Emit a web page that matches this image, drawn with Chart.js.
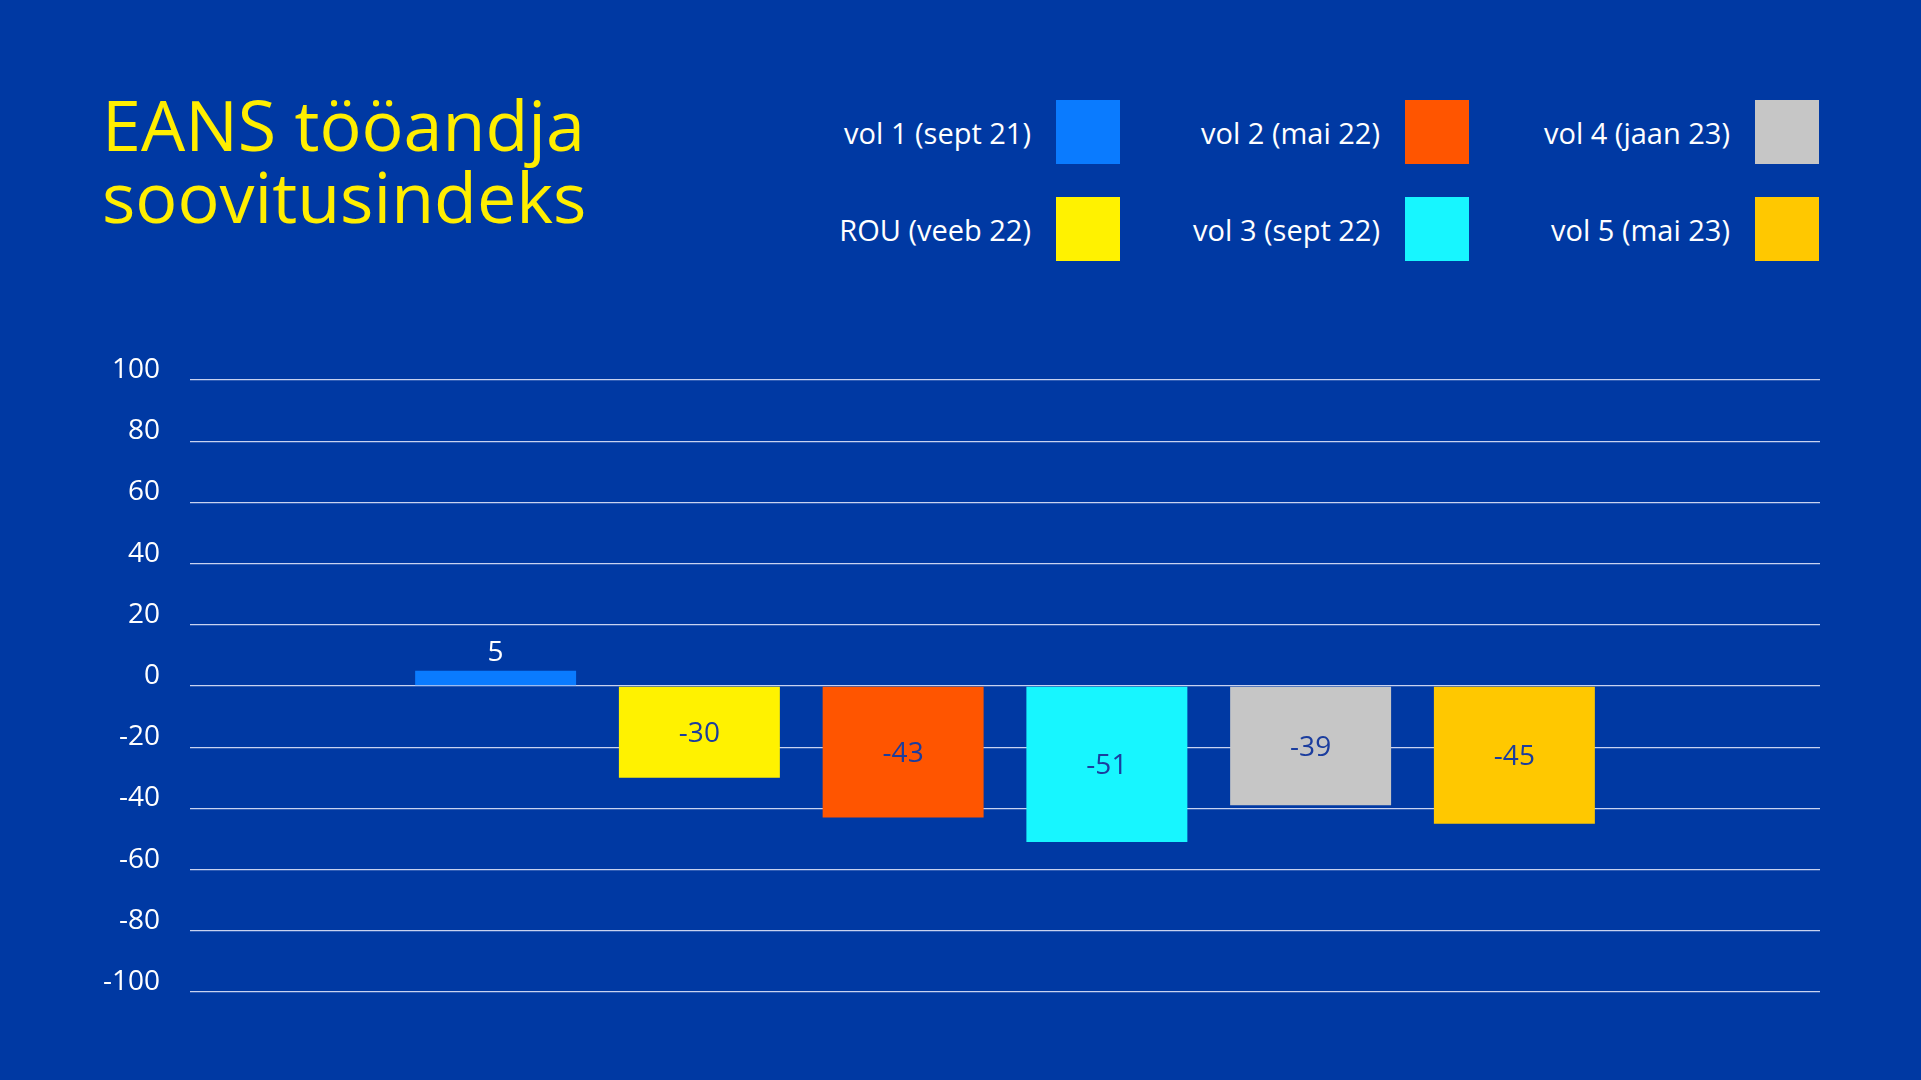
<!DOCTYPE html>
<html><head><meta charset="utf-8">
<script src="https://cdn.jsdelivr.net/npm/chart.js@4"></script>
<style>
html,body{margin:0;padding:0;background:#0039a3;width:1921px;height:1080px;overflow:hidden;font-family:"Open Sans",sans-serif}
#title{position:absolute;left:102px;top:88px;color:#ffee00;font-size:70px;line-height:72px;font-family:"Open Sans";font-weight:400}
.lg{position:absolute;color:#fff;font-size:29px;text-align:right;width:320px}
.sw{position:absolute;width:64px;height:64px}
#c{position:absolute;left:0;top:0}
</style></head><body>
<div id="title">EANS tööandja<br>soovitusindeks</div>
<div id="legend"></div>
<canvas id="c" width="1921" height="1080"></canvas>
<script>
const categories=["","vol 1 (sept 21)","ROU (veeb 22)","vol 2 (mai 22)","vol 3 (sept 22)","vol 4 (jaan 23)","vol 5 (mai 23)",""];
const values=[null,5,-30,-43,-51,-39,-45,null];
const colors=["#000","#0a7bff","#fff200","#ff5500","#17f6ff","#c6c6c6","#ffc800","#000"];
const yTicks=[100,80,60,40,20,0,-20,-40,-60,-80,-100];
const legendOrder=[[1,3,5],[2,4,6]];
const lg=document.getElementById('legend');
const colX=[1056,1405,1755], rowY=[100,197];
legendOrder.forEach((row,r)=>row.forEach((i,c)=>{
  const t=document.createElement('div');t.className='lg';t.textContent=categories[i];
  t.style.left=(colX[c]-345)+'px';t.style.top=(rowY[r]+13)+'px';lg.appendChild(t);
  const s=document.createElement('div');s.className='sw';s.style.background=colors[i];
  s.style.left=colX[c]+'px';s.style.top=rowY[r]+'px';lg.appendChild(s);
}));
const labelPlugin={id:'lbl',afterDatasetsDraw(ch){
  const ctx=ch.ctx;const meta=ch.getDatasetMeta(0);
  ctx.save();ctx.font='28px "Open Sans"';ctx.textAlign='center';
  meta.data.forEach((b,i)=>{const v=values[i];if(v==null)return;
    if(v>=0){ctx.fillStyle='#fff';ctx.textBaseline='bottom';ctx.fillText(v,b.x,b.y-4);}
    else{ctx.fillStyle='#1b3d9e';ctx.textBaseline='middle';ctx.fillText(v,b.x,(b.y+b.base)/2+2);}
  });ctx.restore();}};
new Chart(document.getElementById('c'),{type:'bar',
 data:{labels:categories,datasets:[{data:values,backgroundColor:colors,barPercentage:0.79,categoryPercentage:1}]},
 options:{responsive:false,animation:false,
  layout:{padding:{top:380,bottom:88,left:40,right:101}},
  plugins:{legend:{display:false},tooltip:{enabled:false}},
  scales:{
   x:{display:false},
   y:{min:-100,max:100,afterFit:s=>{s.width=150},afterBuildTicks:s=>{s.ticks=yTicks.map(v=>({value:v}))},
      grid:{color:'#c8d2f0',lineWidth:1.3,drawTicks:false},border:{display:false},
      ticks:{color:'#fff',font:{size:28,family:'"Open Sans"'},padding:30,labelOffset:-10}}
  }},
 plugins:[labelPlugin]});
</script></body></html>
